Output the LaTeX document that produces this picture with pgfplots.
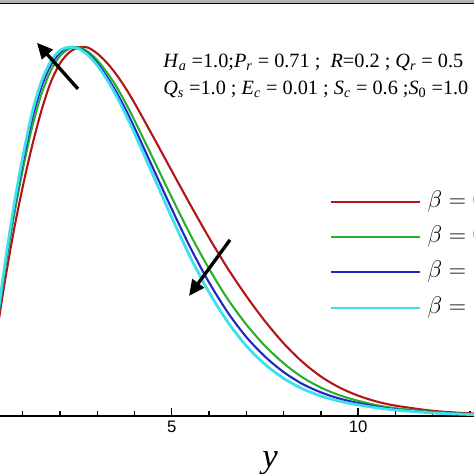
\documentclass[border=0pt]{standalone}
\usepackage{fontspec}
\setmainfont{Liberation Serif}
\setsansfont{Liberation Sans}
\usepackage{pgfplots}
\pgfplotsset{compat=1.18}
\usetikzlibrary{arrows.meta}

\definecolor{cRed}{RGB}{180,20,25}
\definecolor{cGreen}{RGB}{40,175,45}
\definecolor{cBlue}{RGB}{35,35,200}
\definecolor{cCyan}{RGB}{60,225,235}

% columns: y, beta1 (red), beta2 (green), beta3 (blue), beta4 (cyan)
\pgfplotstableread{
x     r      g      b      c
0     0      0      0      0
0.25  0.185  0.199  0.205  0.210
0.5   0.350  0.376  0.387  0.395
0.75  0.495  0.532  0.548  0.560
1.0   0.620  0.666  0.686  0.700
1.25  0.730  0.781  0.804  0.820
1.5   0.826  0.871  0.891  0.905
1.75  0.903  0.935  0.950  0.960
2.0   0.955  0.975  0.984  0.990
2.25  0.985  0.995  0.999  0.999
2.5   0.998  0.999  0.997  0.995
2.75  0.998  0.987  0.982  0.978
3.0   0.982  0.964  0.956  0.950
3.25  0.958  0.932  0.921  0.913
3.5   0.927  0.895  0.880  0.870
3.75  0.890  0.850  0.833  0.820
4.0   0.848  0.801  0.781  0.766
4.5   0.757  0.697  0.671  0.652
5.0   0.664  0.592  0.561  0.538
5.5   0.572  0.491  0.456  0.430
6.0   0.483  0.399  0.362  0.335
6.5   0.400  0.317  0.281  0.255
7.0   0.325  0.248  0.214  0.190
7.5   0.257  0.190  0.161  0.140
8.0   0.197  0.143  0.119  0.102
8.5   0.147  0.105  0.087  0.074
9.0   0.107  0.077  0.064  0.054
9.5   0.077  0.056  0.047  0.040
10    0.055  0.041  0.035  0.030
10.5  0.039  0.029  0.025  0.022
11    0.028  0.021  0.018  0.016
12    0.014  0.011  0.009  0.008
13    0.007  0.005  0.0045 0.004
14    0.003  0.0025 0.002  0.002
}\profile

\begin{document}
\begin{tikzpicture}
\begin{axis}[
  at={(0,0)}, anchor=south west,
  scale only axis,
  width=13.21cm, height=10.456cm,
  xmin=0, xmax=14, ymin=0, ymax=1.119,
  axis line style={line width=1.6pt},
  xtick={5,10}, minor xtick={1,2,3,4,6,7,8,9,11,12,13},
  xtick pos=bottom, ytick=\empty,
  tick align=inside,
  major tick length=0.2cm, minor tick length=0.13cm,
  every tick/.style={black, line width=1pt},
  /pgf/number format/assume math mode=true,
  tick label style={font=\sffamily\fontsize{12}{14}\selectfont},
  xlabel={\textit{y}},
  xlabel style={font=\fontsize{25}{29}\selectfont, at={(axis description cs:0.5457,-0.115)}, anchor=center},
  clip=false,
]
  \addplot[cRed, line width=1.5pt, smooth] table[x=x, y=r] {\profile};
  \addplot[cGreen, line width=1.5pt, smooth] table[x=x, y=g] {\profile};
  \addplot[cBlue, line width=1.5pt, smooth] table[x=x, y=b] {\profile};
  \addplot[cCyan, line width=2pt, smooth] table[x=x, y=c] {\profile};

  % legend drawn by hand
  \draw[cRed, line width=1.5pt] (axis cs:9.27,0.580) -- (axis cs:11.66,0.580);
  \draw[cGreen, line width=1.5pt] (axis cs:9.27,0.485) -- (axis cs:11.66,0.485);
  \draw[cBlue, line width=1.5pt] (axis cs:9.27,0.390) -- (axis cs:11.66,0.390);
  \draw[cCyan, line width=1.5pt] (axis cs:9.27,0.293) -- (axis cs:11.66,0.293);
  \node[anchor=west, font=\fontsize{17}{20}\selectfont, inner sep=0pt] at (axis cs:11.86,0.580) {$\beta = 0.1$};
  \node[anchor=west, font=\fontsize{17}{20}\selectfont, inner sep=0pt] at (axis cs:11.86,0.485) {$\beta = 0.5$};
  \node[anchor=west, font=\fontsize{17}{20}\selectfont, inner sep=0pt] at (axis cs:11.86,0.390) {$\beta = 1.0$};
  \node[anchor=west, font=\fontsize{17}{20}\selectfont, inner sep=0pt] at (axis cs:11.86,0.293) {$\beta = 1.5$};

  % parameter text
  \node[anchor=base west, inner sep=0pt, font=\fontsize{14.6}{17}\selectfont] at (axis cs:4.765,0.943)
    {\textit{H}\textsubscript{\textit{a}} =1.0;\textit{P}\textsubscript{\textit{r}} = 0.71 ;\ \ \textit{R}=0.2 ; \textit{Q}\textsubscript{\textit{r}} = 0.5};
  \node[anchor=base west, inner sep=0pt, font=\fontsize{14.6}{17}\selectfont] at (axis cs:4.765,0.870)
    {\textit{Q}\textsubscript{\textit{s}} =1.0 ; \textit{E}\textsubscript{\textit{c}} = 0.01 ; \textit{S}\textsubscript{\textit{c}} = 0.6 ;\textit{S}\textsubscript{0} =1.0};

  % arrows
  \draw[-{Triangle[length=0.4cm, width=0.36cm]}, line width=2.4pt] (axis cs:2.485,0.886) -- (axis cs:1.384,1.011);
  \draw[-{Triangle[length=0.4cm, width=0.36cm]}, line width=2.4pt] (axis cs:6.563,0.477) -- (axis cs:5.463,0.325);

  \fill[gray!60] (axis cs:0,1.119) rectangle (axis cs:14,1.135);
  \coordinate (bbA) at (axis cs:0.392,-0.157);
  \coordinate (bbB) at (axis cs:13.11,1.127);
\end{axis}
\pgfresetboundingbox
\useasboundingbox (bbA) rectangle (bbB);
\end{tikzpicture}
\end{document}
